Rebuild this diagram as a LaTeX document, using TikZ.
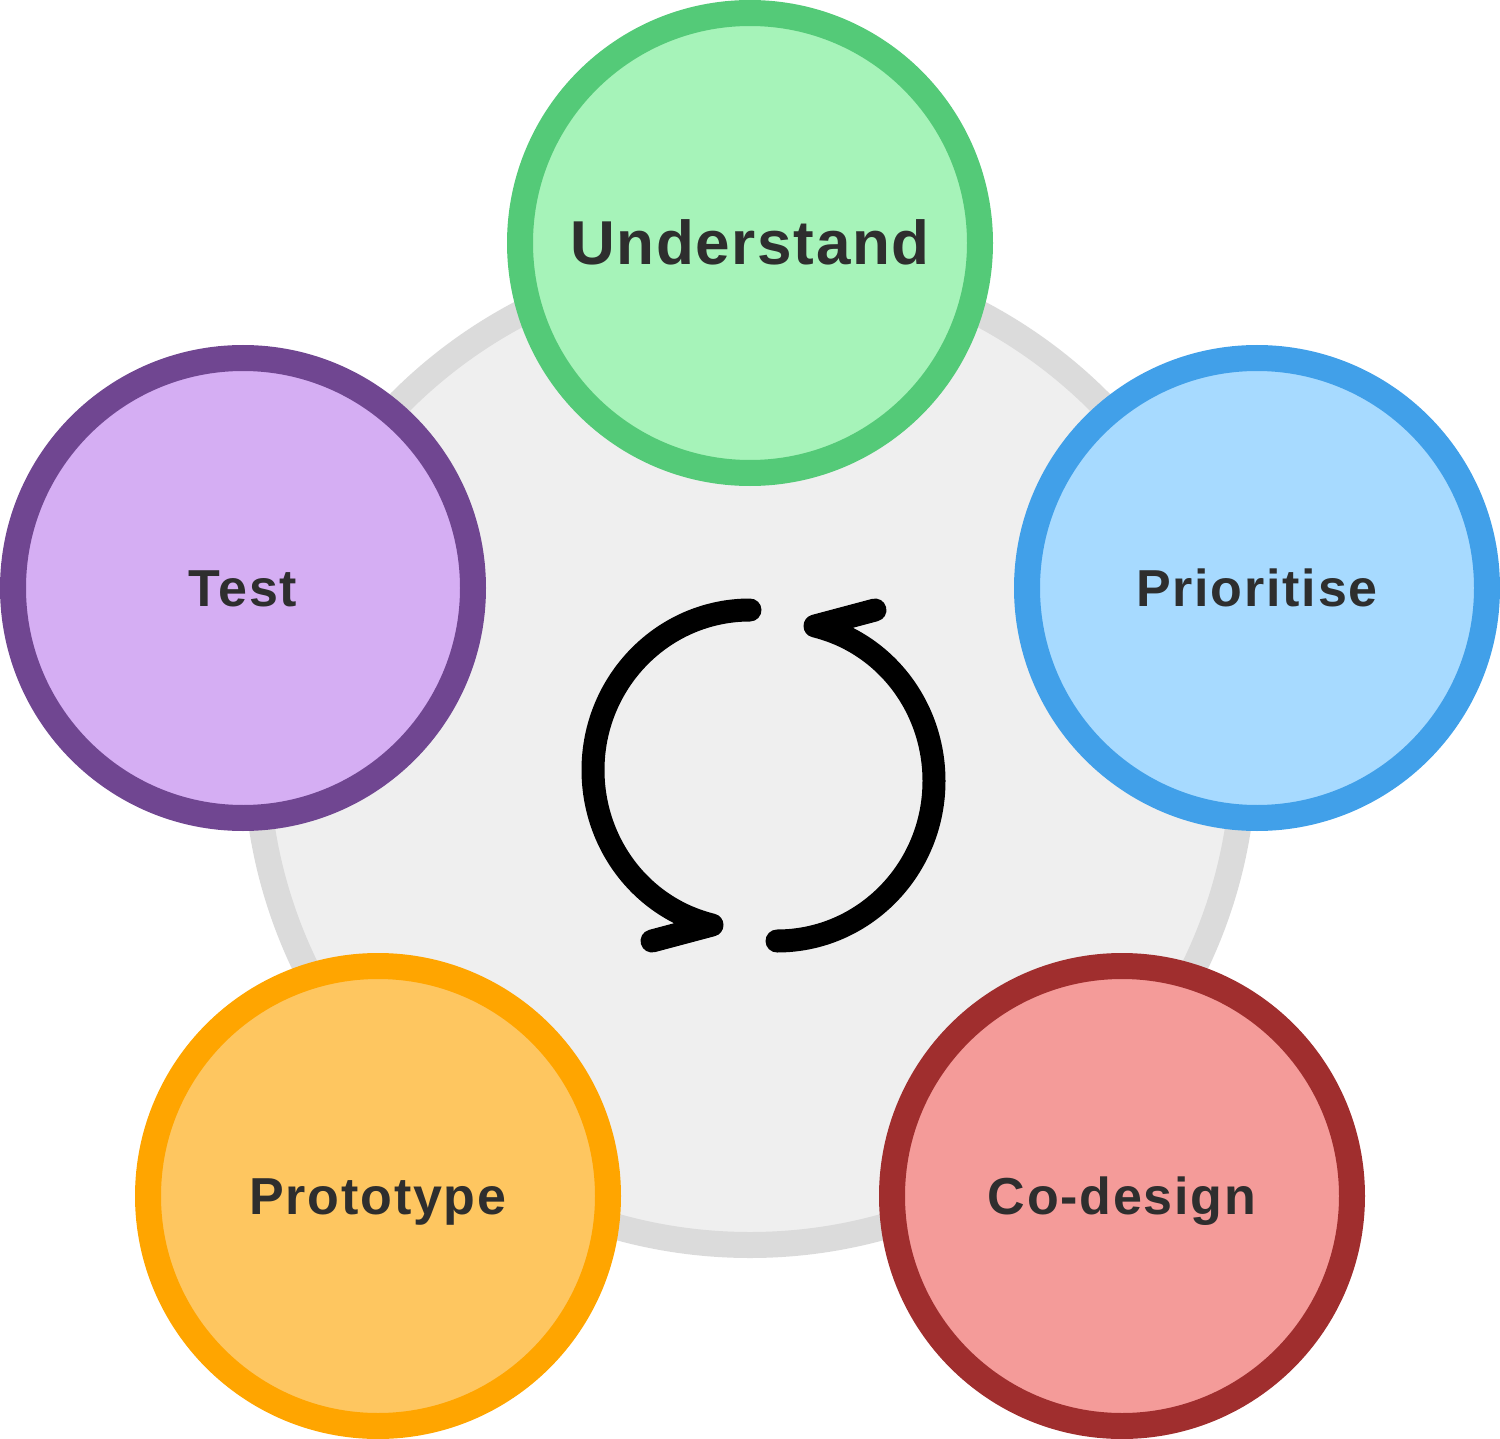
\documentclass[tikz,border=0pt]{standalone}
\usepackage{fontspec}
\setmainfont{Liberation Sans}
\definecolor{hubf}{HTML}{EFEFEF}
\definecolor{hubd}{HTML}{DBDBDB}
\definecolor{txt}{HTML}{2E2E2E}
\definecolor{ud}{RGB}{84,202,120}
\definecolor{uf}{RGB}{166,243,185}
\definecolor{pd}{RGB}{65,160,233}
\definecolor{pf}{RGB}{167,218,255}
\definecolor{cd}{RGB}{160,46,46}
\definecolor{cf}{RGB}{244,155,153}
\definecolor{od}{RGB}{255,165,0}
\definecolor{of}{RGB}{254,198,96}
\definecolor{td}{RGB}{112,70,145}
\definecolor{tf}{RGB}{213,174,243}
\tikzset{
  x=0.5pt,y=-0.5pt,
  stagecircle/.style 2 args={circle,draw=#1,fill=#2,line width=13pt,minimum size=230pt,inner sep=0pt,
    text=txt,text height=24pt,text depth=6pt,
    font=\bfseries\fontsize{26}{26}\selectfont\addfontfeature{LetterSpace=3.4}},
  cyc/.style={line width=11.5pt,line cap=round,line join=round,draw=black}
}
\begin{document}
\begin{tikzpicture}
\useasboundingbox (0,0) rectangle (1500,1439);
\node[circle,draw=hubd,fill=hubf,line width=13pt,minimum size=494pt,inner sep=0pt] (hub) at (750,751) {};
\node[stagecircle={ud}{uf},text height=27pt,text depth=5.8pt,font=\bfseries\fontsize{31}{31}\selectfont\addfontfeature{LetterSpace=2.7}] (u) at (750,243) {Understand};
\node[stagecircle={pd}{pf}] (pr) at (1257,588) {Prioritise};
\node[stagecircle={cd}{cf}] (c) at (1122,1196) {Co-design};
\node[stagecircle={od}{of}] (pt) at (378,1196) {Prototype};
\node[stagecircle={td}{tf}] (t) at (243,588) {Test};
\draw[cyc] (750,610) .. controls (663,610) and (593,682) .. (593,770)
  .. controls (593,843) and (641,907.6) .. (712,925) -- (652,941);
\draw[cyc] (777,941) .. controls (864,941) and (934,869) .. (934,781)
  .. controls (934,708) and (886,643.4) .. (815,626) -- (875,610);
\end{tikzpicture}
\end{document}
